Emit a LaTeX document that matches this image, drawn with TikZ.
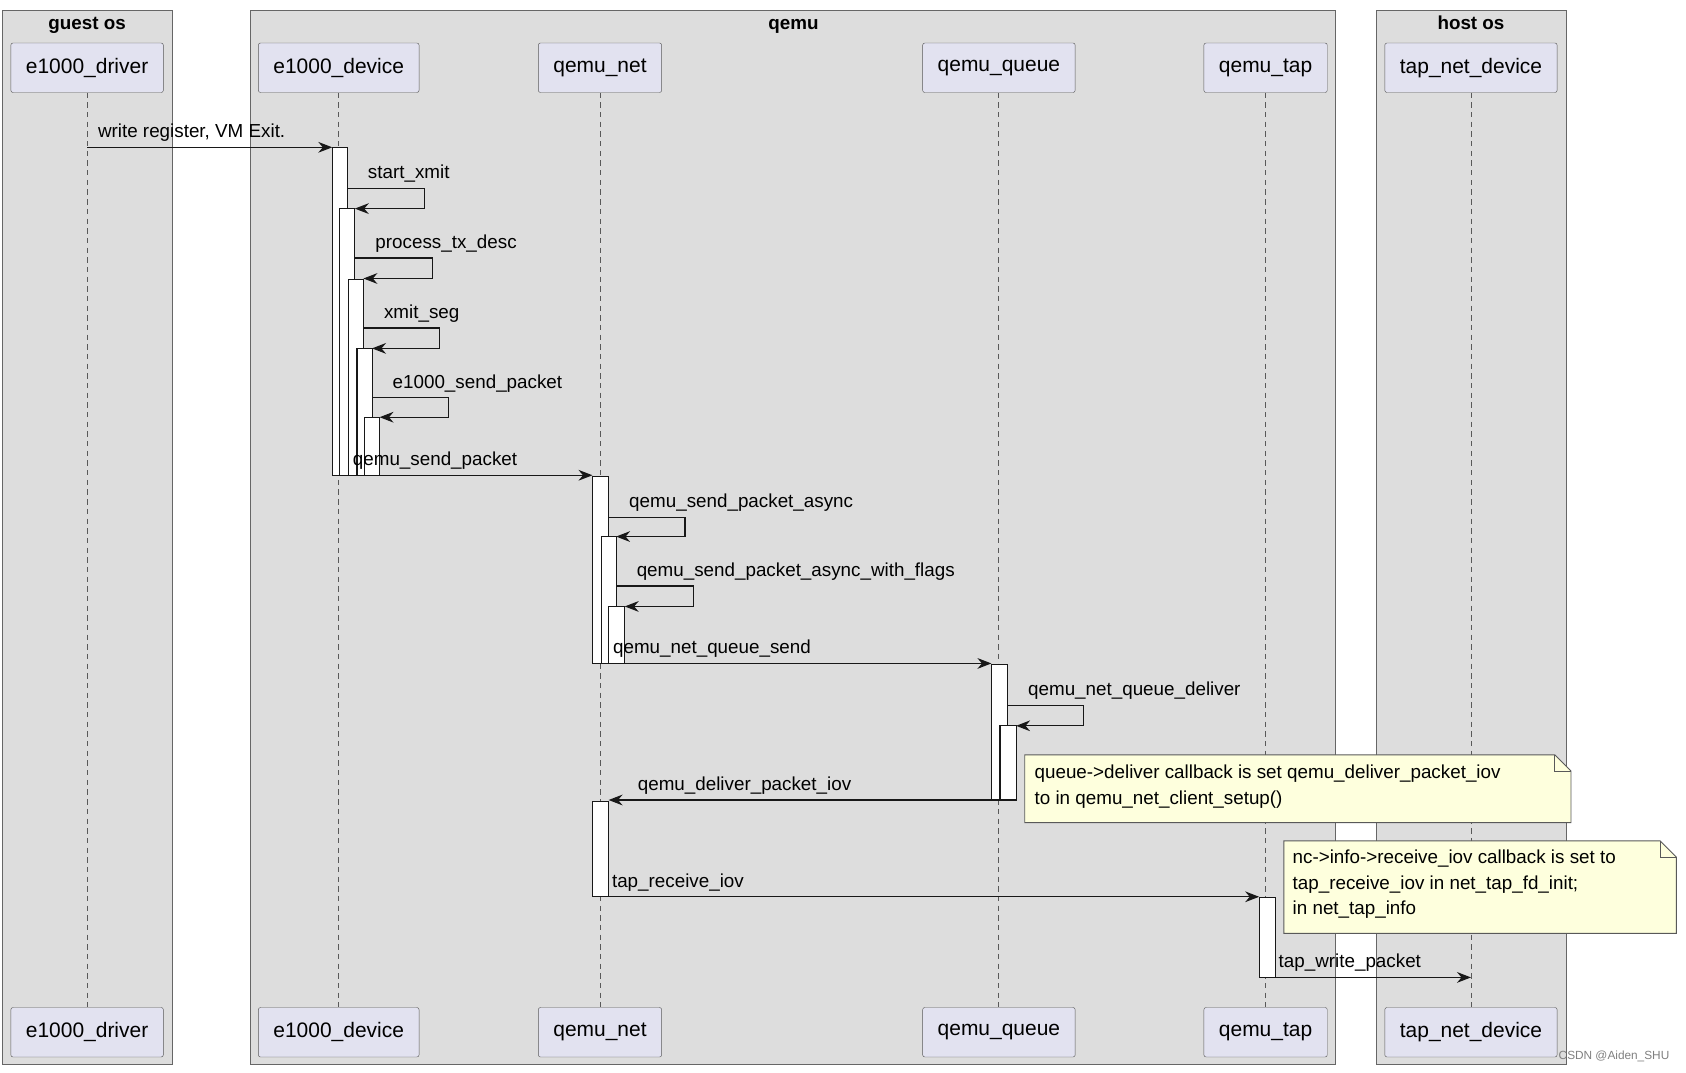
\documentclass[tikz,border=0pt]{standalone}
\usepackage{fontspec}
\setmainfont{Liberation Sans}
\usetikzlibrary{positioning,arrows.meta}
\definecolor{grpbg}{HTML}{DDDDDD}
\definecolor{partbg}{HTML}{E2E2F0}
\definecolor{notebg}{HTML}{FEFFDD}
\definecolor{edge}{HTML}{181818}

\newcommand{\selfcall}[7]{% from x, y0, back x, y1, loop x, label, name
  \coordinate (#7a) at (#1,#2);
  \coordinate (#7b) at (#3,#4);
  \draw[msg] (#7a) -- (#5,#2) -- (#5,#4) -- (#7b);
  \node[lbl, anchor=south west] at (#1+18,#2-4) {#6};
}

\begin{document}
\begin{tikzpicture}[x=1pt, y=-1pt,
    grp/.style={draw=gray!80!black, fill=grpbg, line width=1pt},
    grptitle/.style={font=\bfseries\fontsize{17.5}{20}\selectfont, text height=12pt, text depth=3pt},
    part/.style={draw=gray!70!black, fill=partbg, rounded corners=2pt, minimum height=46pt, inner xsep=14pt, font=\fontsize{19.5}{22}\selectfont},
    life/.style={draw=gray!70!black, dashed, dash pattern=on 5pt off 4pt, line width=0.8pt},
    bar/.style={draw=edge, fill=white, line width=1pt},
    msg/.style={draw=edge, line width=1.1pt, -{Stealth[length=13pt,width=10pt]}},
    lbl/.style={font=\fontsize{17.5}{20}\selectfont, inner sep=1pt},
    note/.style={font=\fontsize{17.5}{24}\selectfont, align=left, anchor=north west, inner sep=0pt}]

\useasboundingbox (0,0) rectangle (1568,997);

% groups
\draw[grp] (2,10) rectangle (160,990);
\draw[grp] (233,10) rectangle (1242,990);
\draw[grp] (1280,10) rectangle (1457,990);
\node[grptitle] at (81,23) {guest os};
\node[grptitle] at (738,23) {qemu};
\node[grptitle] at (1368,23) {host os};

% participants
\foreach \nm/\x/\txt in {drv/81/e1000\_driver, dev/315/e1000\_device, net/558/qemu\_net,
    que/929/qemu\_queue, tap/1177/qemu\_tap, tnd/1368/tap\_net\_device} {
  \node[part] (\nm top) at (\x,63) {\txt};
  \node[part] (\nm bot) at (\x,960) {\txt};
  \draw[life] (\nm top) -- (\nm bot);
}

% activations
\draw[bar] (309,137) rectangle (323,442);
\draw[bar] (316,194) rectangle (330,442);
\draw[bar] (324,260) rectangle (338,442);
\draw[bar] (332,324) rectangle (346,442);
\draw[bar] (339,388) rectangle (353,442);
\draw[bar] (551,443) rectangle (566,617);
\draw[bar] (559,499) rectangle (573,617);
\draw[bar] (566,564) rectangle (581,617);
\draw[bar] (922,618) rectangle (937,744);
\draw[bar] (930,675) rectangle (945,744);
\draw[bar] (551,745) rectangle (566,834);
\draw[bar] (1171,835) rectangle (1186,909);

% messages
\coordinate (m1a) at (81,137);   \coordinate (m1b) at (309,137);
\draw[msg] (m1a) -- (m1b);
\node[lbl, anchor=south west] at (90,133) {write register, VM Exit.};
\selfcall{323}{175}{330}{194}{395}{start\_xmit}{s1}
\selfcall{330}{240}{338}{259}{402}{process\_tx\_desc}{s2}
\selfcall{338}{305}{346}{324}{409}{xmit\_seg}{s3}
\selfcall{346}{370}{353}{388}{417}{e1000\_send\_packet}{s4}
\coordinate (m2a) at (353,442);  \coordinate (m2b) at (551,442);
\draw[msg] (m2a) -- (m2b);
\node[lbl, anchor=south west] at (327,438) {qemu\_send\_packet};
\selfcall{566}{481}{573}{499}{637}{qemu\_send\_packet\_async}{s5}
\selfcall{573}{545}{581}{564}{645}{qemu\_send\_packet\_async\_with\_flags}{s6}
\coordinate (m3a) at (581,617);  \coordinate (m3b) at (922,617);
\draw[msg] (m3a) -- (m3b);
\node[lbl, anchor=south west] at (569,613) {qemu\_net\_queue\_send};
\selfcall{937}{656}{945}{675}{1008}{qemu\_net\_queue\_deliver}{s7}
\coordinate (m4a) at (922,744);  \coordinate (m4b) at (566,744);
\draw[msg] (m4a) -- (m4b);
\node[lbl, anchor=south west] at (592,740) {qemu\_deliver\_packet\_iov};
\coordinate (m5a) at (566,834);  \coordinate (m5b) at (1171,834);
\draw[msg] (m5a) -- (m5b);
\node[lbl, anchor=south west] at (568,830) {tap\_receive\_iov};
\coordinate (m6a) at (1186,909); \coordinate (m6b) at (1368,909);
\draw[msg] (m6a) -- (m6b);
\node[lbl, anchor=south west] at (1188,905) {tap\_write\_packet};

% notes
\draw[draw=gray!70!black, fill=notebg, line width=0.8pt] (953,702) -- (1446,702) -- (1461,717) -- (1461,765) -- (953,765) -- cycle;
\draw[draw=gray!70!black, line width=0.8pt] (1446,702) -- (1446,717) -- (1461,717);
\node[note] (n1) at (962,711) {queue->deliver callback is set qemu\_deliver\_packet\_iov\\to in qemu\_net\_client\_setup()};
\draw[draw=gray!70!black, fill=notebg, line width=0.8pt] (1194,782) -- (1544,782) -- (1559,797) -- (1559,868) -- (1194,868) -- cycle;
\draw[draw=gray!70!black, line width=0.8pt] (1544,782) -- (1544,797) -- (1559,797);
\node[note] (n2) at (1202,790) {nc->info->receive\_iov callback is set to\\tap\_receive\_iov in net\_tap\_fd\_init;\\in net\_tap\_info};

\node[font=\fontsize{11}{12}\selectfont, text=gray, anchor=east] (wm) at (1556,982) {CSDN @Aiden\_SHU};
\end{tikzpicture}
\end{document}
